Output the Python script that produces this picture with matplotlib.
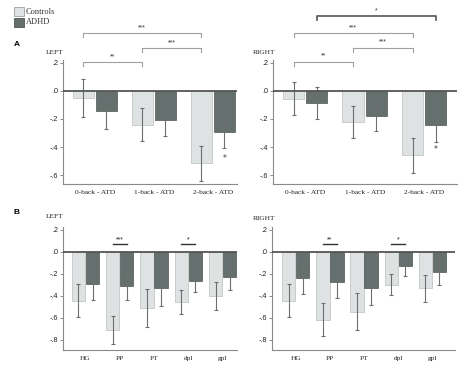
import matplotlib
matplotlib.use("Agg")
import matplotlib.pyplot as plt
from matplotlib.patches import Rectangle
import numpy as np

# ---------------- data ----------------
groups_a = ["0-back - ATD", "1-back - ATD", "2-back - ATD"]
a_left_ctrl = [-0.05, -0.24, -0.515]
a_left_ctrl_err = [0.135, 0.12, 0.125]
a_left_adhd = [-0.14, -0.21, -0.29]
a_left_adhd_err = [0.13, 0.11, 0.12]

a_right_ctrl = [-0.055, -0.22, -0.46]
a_right_ctrl_err = [0.118, 0.113, 0.123]
a_right_adhd = [-0.087, -0.18, -0.243]
a_right_adhd_err = [0.115, 0.107, 0.12]

groups_b = ["HG", "PP", "PT", "dpl", "gpl"]
b_left_ctrl = [-0.445, -0.71, -0.51, -0.455, -0.40]
b_left_ctrl_err = [0.15, 0.13, 0.17, 0.11, 0.125]
b_left_adhd = [-0.294, -0.31, -0.33, -0.26, -0.227]
b_left_adhd_err = [0.145, 0.125, 0.165, 0.108, 0.118]

b_right_ctrl = [-0.445, -0.615, -0.545, -0.297, -0.33]
b_right_ctrl_err = [0.15, 0.153, 0.168, 0.094, 0.125]
b_right_adhd = [-0.236, -0.273, -0.324, -0.13, -0.179]
b_right_adhd_err = [0.148, 0.147, 0.162, 0.09, 0.125]

series_names = ["Controls", "ADHD"]

# significance brackets: (group_i, bar_i, group_j, bar_j, y, label, style)
a_left_brackets = [(0, 0, 1, 0, 0.207, "**", "light"),
                   (1, 0, 2, 0, 0.307, "***", "light"),
                   (0, 0, 2, 0, 0.414, "***", "light")]
a_right_brackets = [(0, 0, 1, 0, 0.21, "**", "light"),
                    (1, 0, 2, 0, 0.31, "***", "light"),
                    (0, 0, 2, 0, 0.415, "***", "light"),
                    (0, 1, 2, 1, 0.536, "*", "dark")]
a_left_star = (2, -0.48)
a_right_star = (2, -0.415)
b_left_sig = [(1, "***"), (3, "*")]
b_right_sig = [(1, "**"), (3, "*")]

# ---------------- style ----------------
C_CTRL = "#dfe2e2"
E_CTRL = "#b9bebd"
C_ADHD = "#65706e"
E_ADHD = "#4d5654"
ERR = "#6e6e6e"
SERIF = ["Liberation Serif", "DejaVu Serif"]
SANS = ["Liberation Sans", "DejaVu Sans"]

W, H = 474, 370
fig = plt.figure(figsize=(W / 100, H / 100), dpi=100)


def px_axes(x0, y0, x1, y1):
    return fig.add_axes([x0 / W, 1 - y1 / H, (x1 - x0) / W, (y1 - y0) / H])


def draw_panel(ax, cats, ctrl, ctrl_err, adhd, adhd_err, xlim, ylim, yticks,
               off, width, label):
    x = np.arange(len(cats))
    ax.bar(x - off, ctrl, width, color=C_CTRL, edgecolor=E_CTRL, linewidth=0.5, zorder=2)
    ax.bar(x + off, adhd, width, color=C_ADHD, edgecolor=E_ADHD, linewidth=0.5, zorder=2)
    ax.errorbar(x - off, ctrl, yerr=ctrl_err, fmt="none", ecolor=ERR,
                elinewidth=0.8, capsize=1.6, capthick=0.8, zorder=3)
    ax.errorbar(x + off, adhd, yerr=adhd_err, fmt="none", ecolor=ERR,
                elinewidth=0.8, capsize=1.6, capthick=0.8, zorder=3)
    ax.axhline(0, color="#555555", linewidth=1.3, zorder=4)
    ax.set_xlim(*xlim)
    ax.set_ylim(*ylim)
    ax.set_xticks(x)
    ax.set_xticklabels(cats, fontfamily=SERIF, fontsize=5.3)
    ax.set_yticks(yticks)
    ax.set_yticklabels([("%.1f" % v).replace("0.", ".") for v in yticks],
                       fontfamily=SANS, fontsize=5.2)
    ax.tick_params(axis="x", length=0, pad=4, colors="#222222")
    ax.tick_params(axis="y", length=2, width=0.6, pad=1.5, color="#777777",
                   labelcolor="#222222")
    for s in ["top", "right"]:
        ax.spines[s].set_visible(False)
    for s in ["left", "bottom"]:
        ax.spines[s].set_color("#8a8a8a")
        ax.spines[s].set_linewidth(0.8)
    ax.set_facecolor("none")
    return x


def brackets(ax, br, off):
    for gi, bi, gj, bj, y, lab, style in br:
        xi = gi + (off if bi else -off)
        xj = gj + (off if bj else -off)
        col = "#a0a0a0" if style == "light" else "#555555"
        lw = 0.8 if style == "light" else 1.2
        leg = 0.03
        ax.plot([xi, xi, xj, xj], [y - leg, y, y, y - leg], color=col, lw=lw,
                clip_on=False, zorder=5)
        ax.text((xi + xj) / 2, y + 0.012, lab, ha="center", va="bottom",
                fontsize=5, color="#333333", clip_on=False, fontfamily=SANS)


# ---------------- Panel A ----------------
offA, wA = 0.195, 0.356
ylimA = (-0.664, 0.221)
yticksA = [0.2, 0.0, -0.2, -0.4, -0.6]

axAL = px_axes(63, 60, 237, 184)
draw_panel(axAL, groups_a, a_left_ctrl, a_left_ctrl_err, a_left_adhd, a_left_adhd_err,
           (-0.54, 2.41), ylimA, yticksA, offA, wA, "LEFT")
brackets(axAL, a_left_brackets, offA)
axAL.text(a_left_star[0] + offA, a_left_star[1], "*", ha="center", va="center",
          fontsize=5.5, color="#333333")

axAR = px_axes(273, 60, 457, 184)
draw_panel(axAR, groups_a, a_right_ctrl, a_right_ctrl_err, a_right_adhd, a_right_adhd_err,
           (-0.54, 2.55), ylimA, yticksA, offA, wA, "RIGHT")
brackets(axAR, a_right_brackets, offA)
axAR.text(a_right_star[0] + offA, a_right_star[1], "*", ha="center", va="center",
          fontsize=5.5, color="#333333")

# ---------------- Panel B ----------------
offB, wB = 0.205, 0.39
ylimB = (-0.891, 0.227)
yticksB = [0.2, 0.0, -0.2, -0.4, -0.6, -0.8]

axBL = px_axes(63, 227, 237, 350)
draw_panel(axBL, groups_b, b_left_ctrl, b_left_ctrl_err, b_left_adhd, b_left_adhd_err,
           (-0.657, 4.42), ylimB, yticksB, offB, wB, "LEFT")
axBR = px_axes(272, 227, 455, 350)
draw_panel(axBR, groups_b, b_right_ctrl, b_right_ctrl_err, b_right_adhd, b_right_adhd_err,
           (-0.694, 4.66), ylimB, yticksB, offB, wB, "RIGHT")

for ax, sig in [(axBL, b_left_sig), (axBR, b_right_sig)]:
    for g, lab in sig:
        ax.plot([g - offB, g + offB], [0.07, 0.07], color="#333333", lw=1.0,
                zorder=5, clip_on=False)
        ax.text(g, 0.08, lab, ha="center", va="bottom", fontsize=5,
                color="#222222", fontfamily=SANS)

# ---------------- labels ----------------
def ftext(xp, yp, s, **kw):
    fig.text(xp / W, 1 - yp / H, s, **kw)

ftext(55, 52, "LEFT", ha="center", va="center", fontsize=5.3, fontfamily=SERIF, color="#222222")
ftext(264, 52, "RIGHT", ha="center", va="center", fontsize=5.3, fontfamily=SERIF, color="#222222")
ftext(55, 217, "LEFT", ha="center", va="center", fontsize=5.3, fontfamily=SERIF, color="#222222")
ftext(264, 218, "RIGHT", ha="center", va="center", fontsize=5.3, fontfamily=SERIF, color="#222222")
ftext(17, 45, "A", ha="center", va="center", fontsize=6, fontweight="bold", fontfamily=SANS)
ftext(17, 212, "B", ha="center", va="center", fontsize=6, fontweight="bold", fontfamily=SANS)

# legend
for yc, name, fc, ec in [(11.7, series_names[0], C_CTRL, "#9a9e9d"),
                         (22.5, series_names[1], C_ADHD, E_ADHD)]:
    fig.add_artist(Rectangle((14 / W, 1 - (yc + 4.2) / H), 10 / W, 8.4 / H,
                             transform=fig.transFigure, facecolor=fc,
                             edgecolor=ec, linewidth=0.6))
    ftext(26, yc, name, ha="left", va="center", fontsize=6, fontfamily=SERIF, color="#333333")

fig.savefig("out.png", dpi=100)
